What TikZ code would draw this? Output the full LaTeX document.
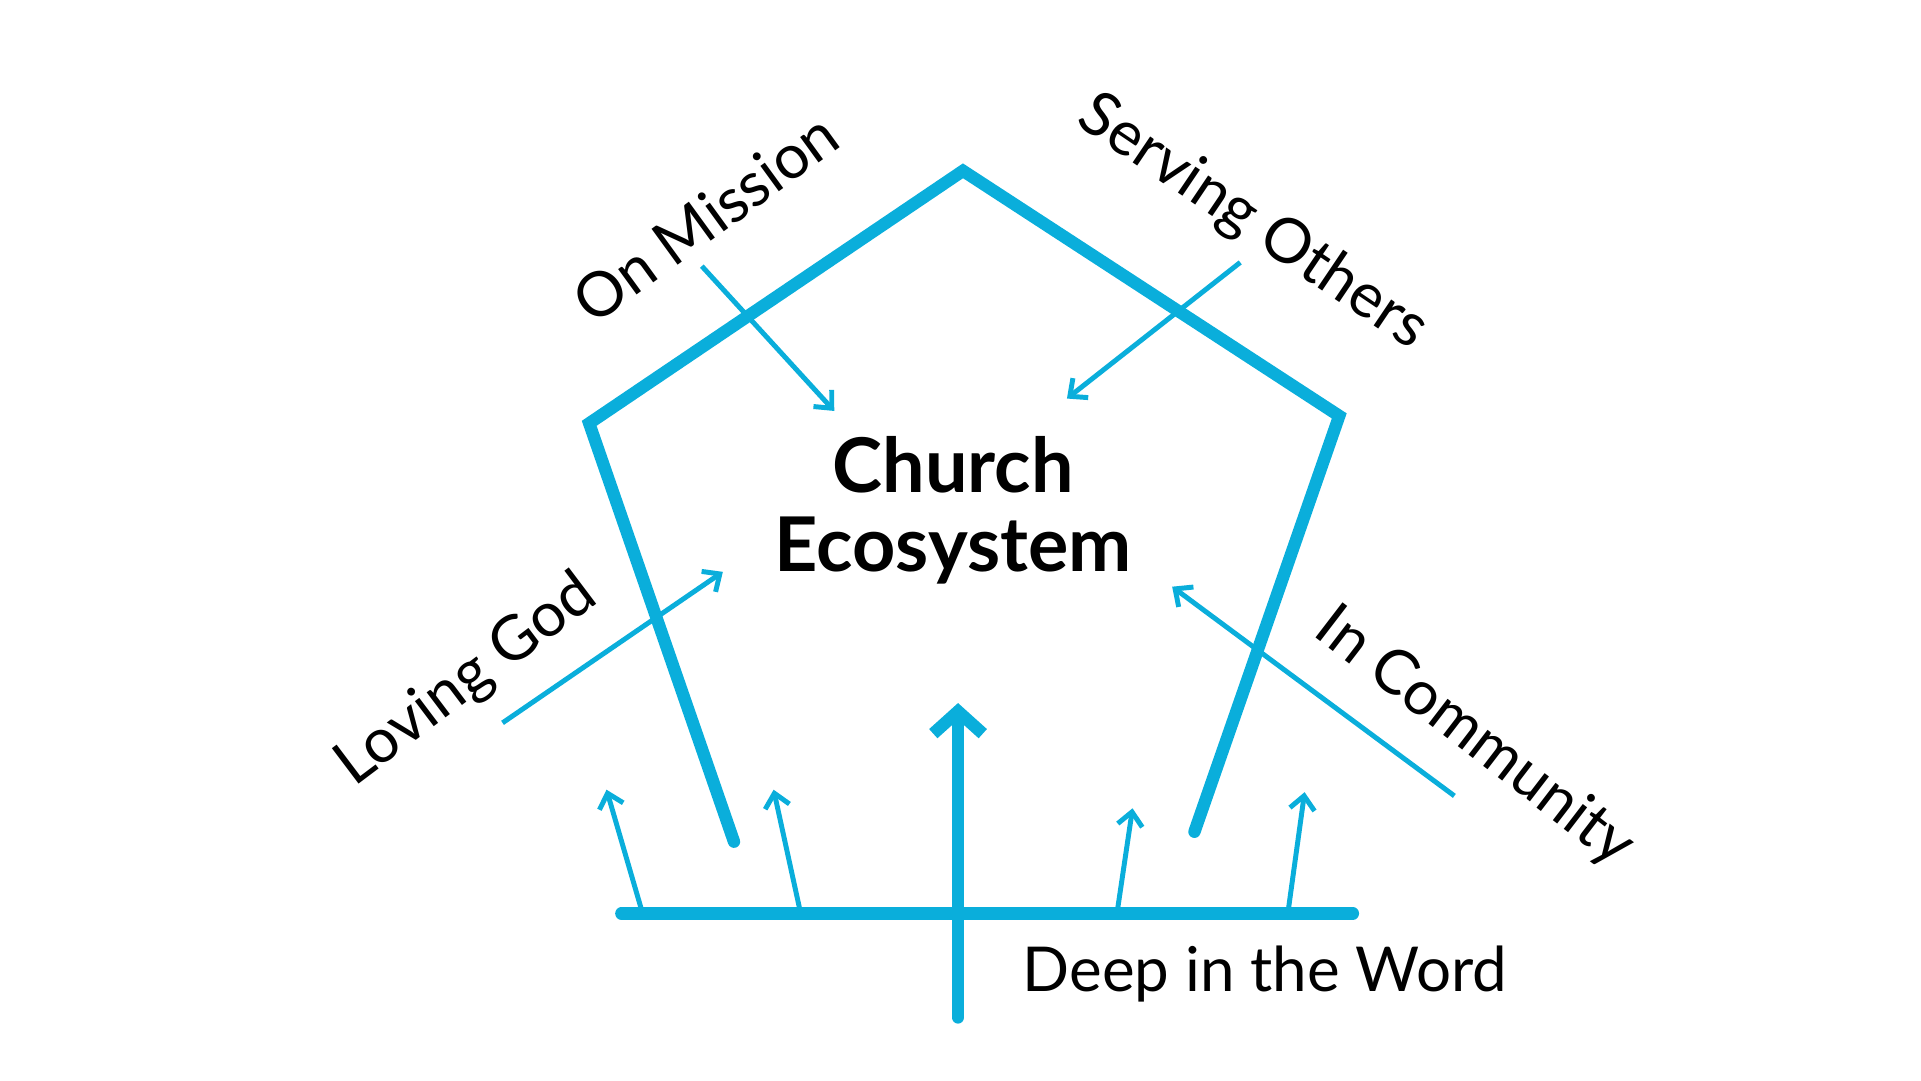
\documentclass[tikz,border=0pt]{standalone}
\usepackage{fontspec}
\setmainfont{Lato}
\usetikzlibrary{arrows.meta}
\definecolor{cb}{HTML}{0AAEDB}
\begin{document}
\begin{tikzpicture}[x=1pt,y=-1pt,
  thick line/.style={draw=cb,line width=10pt,line cap=round,line join=miter},
  thin arrow/.style={draw=cb,line width=4pt,-{Straight Barb[length=11pt,width=20pt,line width=4pt]}},
  lbl/.style={font=\fontsize{50}{56}\selectfont,inner sep=0pt}]
\useasboundingbox (0,0) rectangle (1552,873);
\coordinate (bl) at (593,680); \coordinate (l) at (476,342); \coordinate (t) at (778,138);
\coordinate (r) at (1082,336); \coordinate (br) at (965,672);
\draw[thick line] (bl) -- (l) -- (t) -- (r) -- (br);
\node[font=\bfseries\fontsize{61}{64}\selectfont,align=center] (c) at (770,412) {Church\\Ecosystem};
\coordinate (hl) at (502,738); \coordinate (hr) at (1093,738);
\draw[thick line] (hl) -- (hr);
\coordinate (vb) at (774,822); \coordinate (vt) at (774,568);
\draw[draw=cb,line width=10pt,line cap=round,-{Straight Barb[length=18pt,width=40pt,line width=10pt]}] (vb) -- (vt);
\coordinate (m1) at (567,215); \coordinate (m2) at (674,332);
\coordinate (s1) at (1002,212); \coordinate (s2) at (862,322);
\coordinate (g1) at (406,584); \coordinate (g2) at (584,462);
\coordinate (k1) at (1175,643); \coordinate (k2) at (947,474);
\draw[thin arrow] (m1) -- (m2);
\draw[thin arrow] (s1) -- (s2);
\draw[thin arrow] (g1) -- (g2);
\draw[thin arrow] (k1) -- (k2);
\coordinate (a1) at (518,734); \coordinate (a2) at (490,638);
\coordinate (b1) at (646,734); \coordinate (b2) at (625,638);
\coordinate (d1) at (903,734); \coordinate (d2) at (915,653);
\coordinate (e1) at (1041,734); \coordinate (e2) at (1054,640);
\draw[thin arrow] (a1) -- (a2);
\draw[thin arrow] (b1) -- (b2);
\draw[thin arrow] (d1) -- (d2);
\draw[thin arrow] (e1) -- (e2);
\node[lbl,rotate=36] (om) at (570,176) {On Mission};
\node[lbl,rotate=-34] (so) at (1012,180) {Serving Others};
\node[lbl,rotate=37] (lg) at (377,550) {Loving God};
\node[lbl,rotate=-37.5] (ic) at (1191,596) {In Community};
\node[lbl] (dw) at (1022,787) {Deep in the Word};
\end{tikzpicture}
\end{document}
